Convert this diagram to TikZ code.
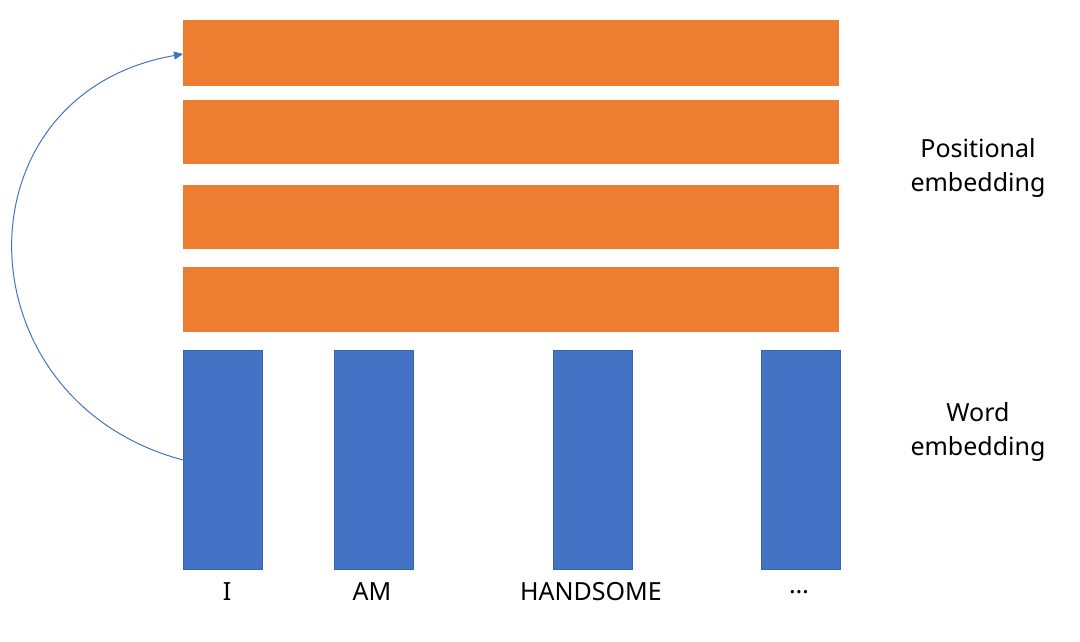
\documentclass[tikz,border=0pt]{standalone}
\usepackage{fontspec}
\setmainfont{Noto Sans}
\usetikzlibrary{arrows.meta}
\definecolor{orng}{HTML}{ED7D31}
\definecolor{blu}{HTML}{4472C4}
\definecolor{bluedge}{HTML}{3A64AE}
\tikzset{
  obar/.style={fill=orng, draw=none, rectangle, inner sep=0pt, outer sep=0pt, anchor=south west, minimum width=656pt, minimum height=65pt},
  wbar/.style={fill=blu, draw=bluedge, line width=0.6pt, rectangle, inner sep=0pt, outer sep=0pt, anchor=south west, minimum width=79pt, minimum height=219pt},
  lbl/.style={font=\fontsize{25}{34}\selectfont, inner sep=0pt, align=center},
  conn/.style={draw=blu, line width=1pt, -{Triangle[length=9pt,width=8pt]}}
}
\begin{document}
\begin{tikzpicture}[x=1pt,y=1pt]
\useasboundingbox (0,0) rectangle (1080,641);
\node[obar, minimum height=66pt] (p1) at (183,555) {};
\node[obar, minimum height=64pt] (p2) at (183,477) {};
\node[obar, minimum height=64pt] (p3) at (183,392) {};
\node[obar, minimum height=65pt] (p4) at (183,309) {};
\node[wbar] (w1) at (183,72) {};
\node[wbar] (w2) at (334,72) {};
\node[wbar] (w3) at (553,72) {};
\node[wbar] (w4) at (761,72) {};
\node[lbl] (t1) at (227,49) {I};
\node[lbl] (t2) at (372,49) {AM};
\node[lbl] (t3) at (591,49) {HANDSOME};
\node[lbl] (t4) at (799,49) {…};
\node[lbl] (pe) at (978,473) {Positional\\embedding};
\node[lbl] (we) at (978,209) {Word\\embedding};
\coordinate (s) at (w1.south west |- 0,181);
\coordinate (e) at (p1.south west |- 0,587);
\draw[conn] (s) .. controls (-42,241) and (-46,547) .. (e);
\end{tikzpicture}
\end{document}
